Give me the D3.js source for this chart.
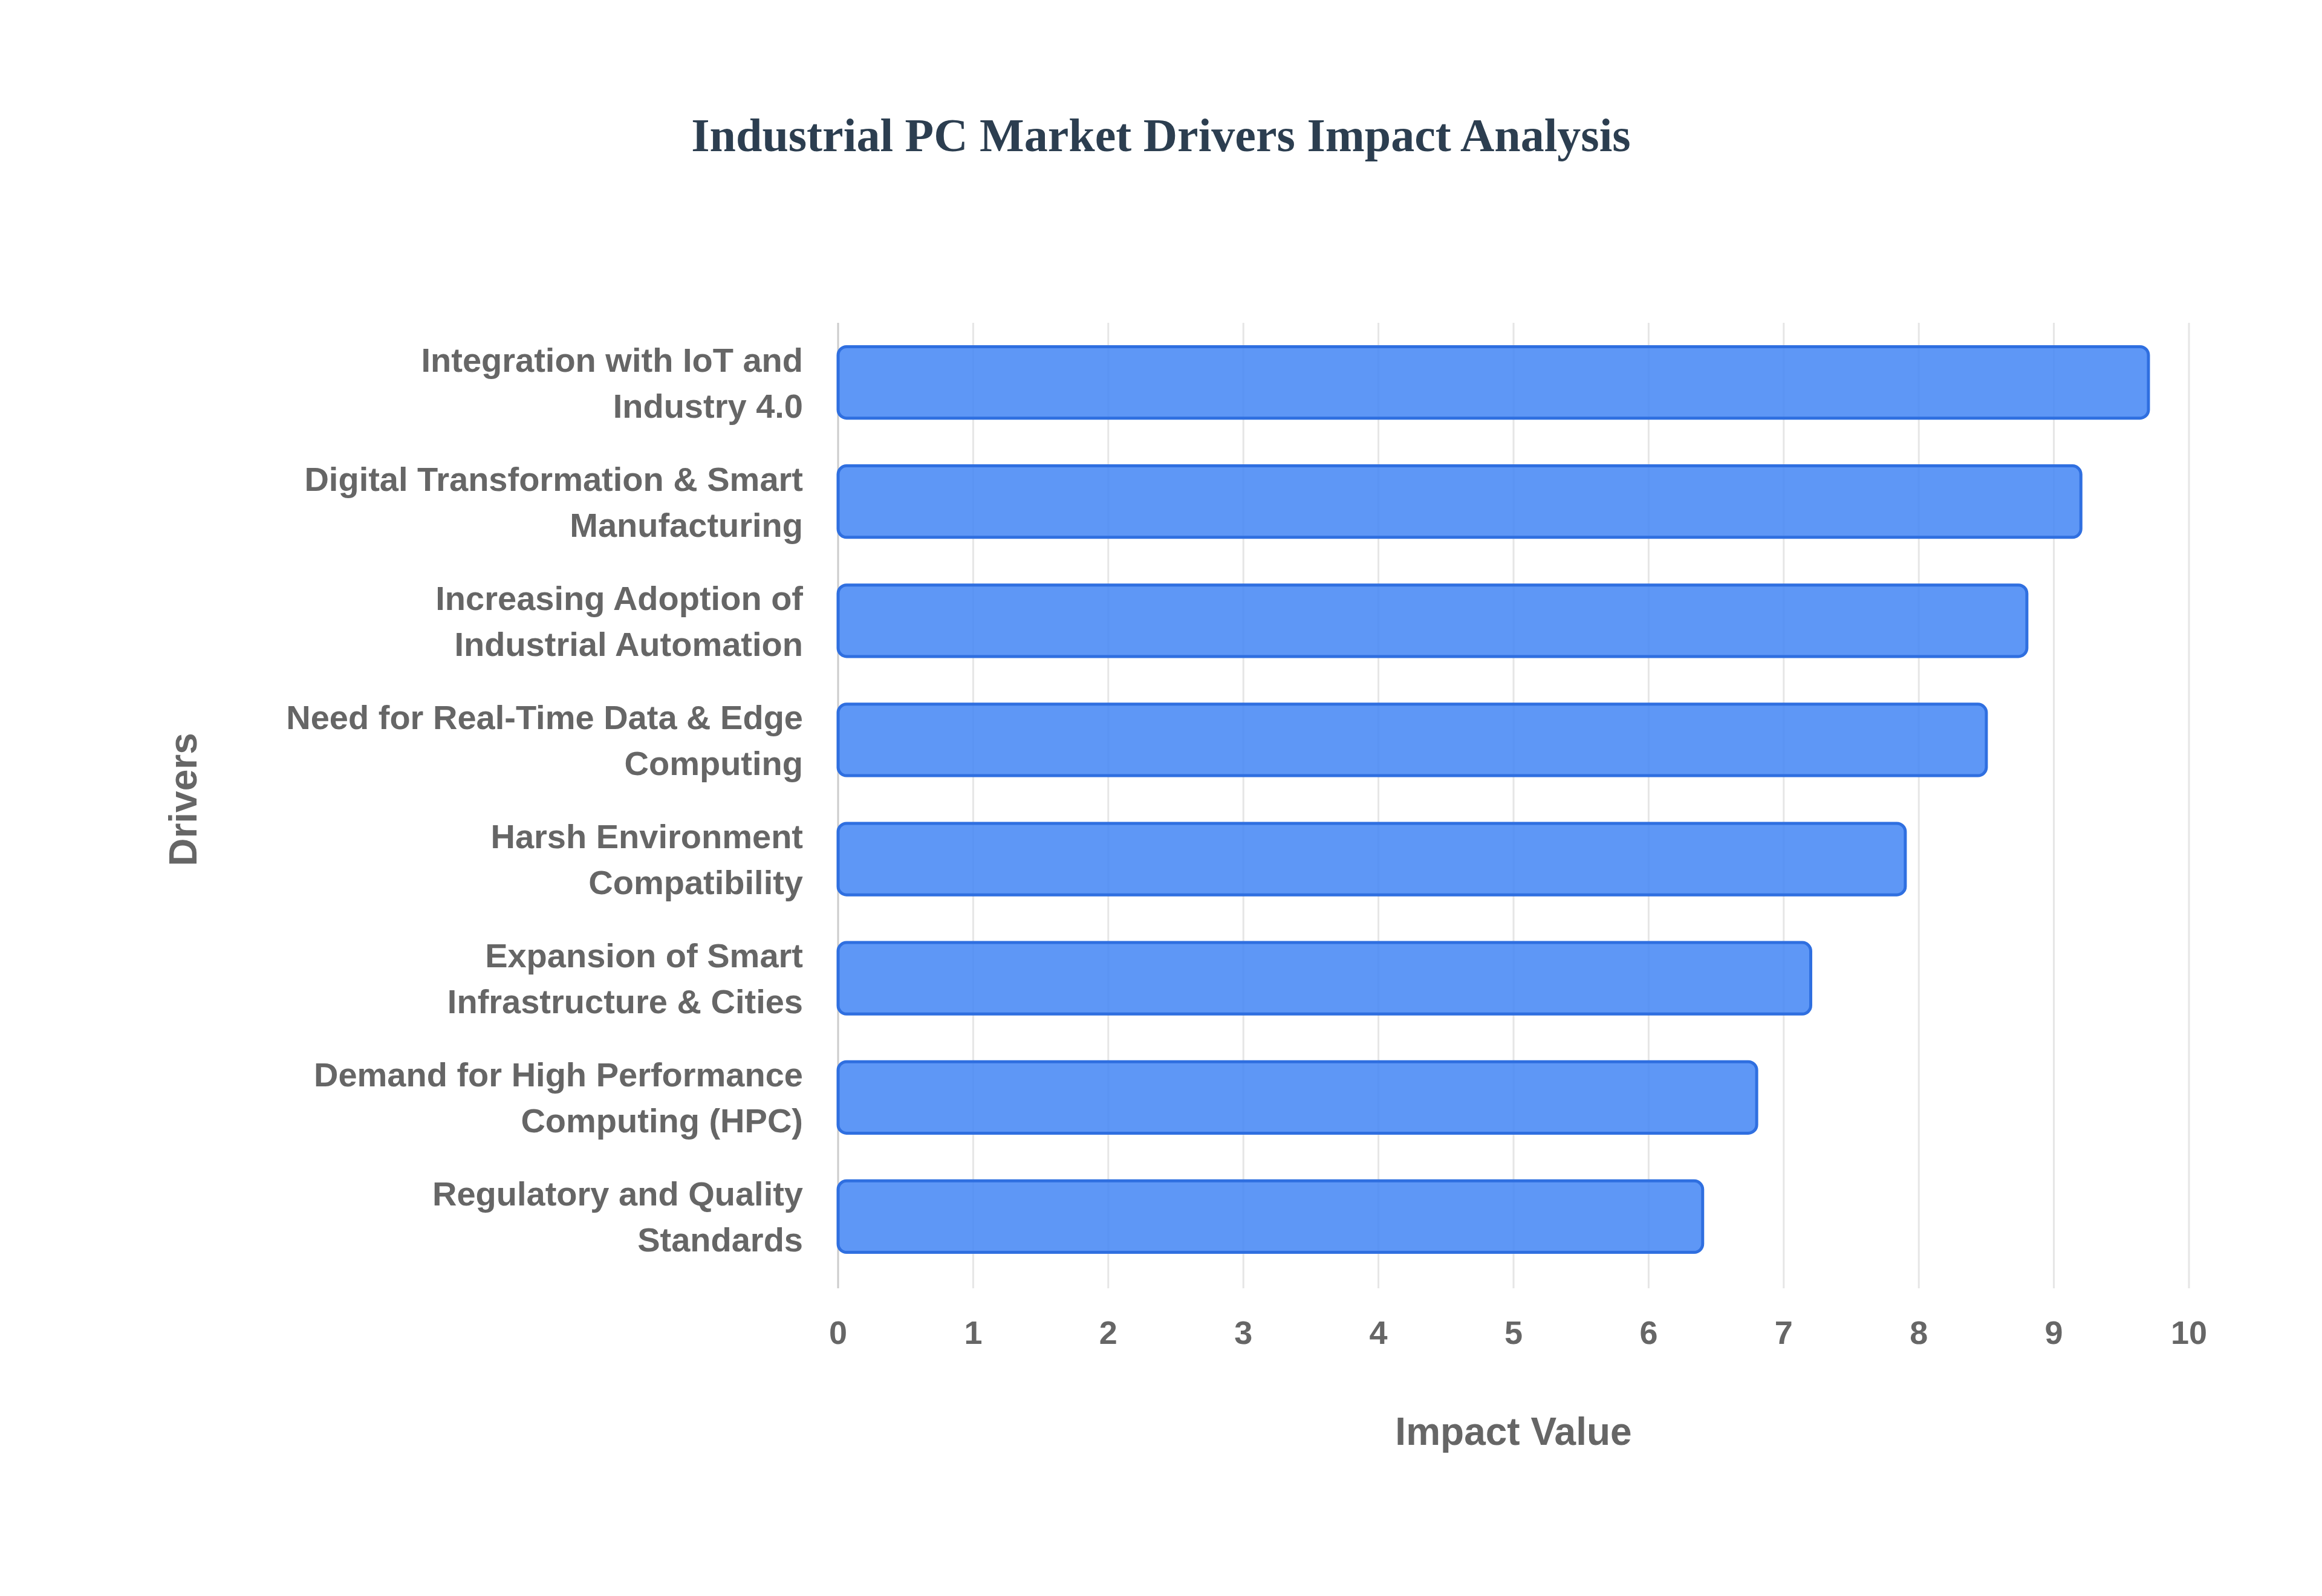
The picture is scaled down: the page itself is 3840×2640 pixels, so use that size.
<!DOCTYPE html>
<html><head><meta charset="utf-8">
<script src="https://d3js.org/d3.v7.min.js"></script>
<style>body{margin:0;background:#fff}</style>
</head><body><svg id="c" width="3840" height="2640"></svg>
<script>
const categories = [
 ["Integration with IoT and","Industry 4.0"],
 ["Digital Transformation & Smart","Manufacturing"],
 ["Increasing Adoption of","Industrial Automation"],
 ["Need for Real-Time Data & Edge","Computing"],
 ["Harsh Environment","Compatibility"],
 ["Expansion of Smart","Infrastructure & Cities"],
 ["Demand for High Performance","Computing (HPC)"],
 ["Regulatory and Quality","Standards"]
];
const values = [9.7, 9.2, 8.8, 8.5, 7.9, 7.2, 6.8, 6.4];
const xTicks = [0,1,2,3,4,5,6,7,8,9,10];

const svg = d3.select("#c");
const L=1386, R=3620, T=534, B=2111;
const x = d3.scaleLinear().domain([0,10]).range([L,R]);
const y = d3.scaleBand().domain(d3.range(categories.length)).range([T,B]).paddingInner(0.4).paddingOuter(0.2);

svg.append("text").attr("x",1920).attr("y",250).attr("text-anchor","middle")
 .attr("font-family","Liberation Serif, serif").attr("font-weight","bold").attr("font-size",78)
 .attr("fill","#2c3e50").text("Industrial PC Market Drivers Impact Analysis");

const g = svg.append("g");
g.selectAll("line.grid").data(xTicks).join("line")
 .attr("x1",d=>x(d)).attr("x2",d=>x(d)).attr("y1",T).attr("y2",B+20)
 .attr("stroke",d=>d===0?"#cccccc":"#e6e6e6").attr("stroke-width",3);

g.selectAll("rect").data(values).join("rect")
 .attr("x",x(0)).attr("y",(d,i)=>y(i)).attr("width",d=>x(d)-x(0)).attr("height",y.bandwidth())
 .attr("rx",14).attr("fill","#4285f4").attr("fill-opacity",0.85)
 .attr("stroke","#2f6fe0").attr("stroke-width",5);

const ff="Liberation Sans, Arial, sans-serif";
g.selectAll("text.tick").data(xTicks).join("text")
 .attr("x",d=>x(d)).attr("y",B+112).attr("text-anchor","middle")
 .attr("font-family",ff).attr("font-weight","bold").attr("font-size",54).attr("fill","#666")
 .text(d=>d);

categories.forEach((c,i)=>{
 const t=g.append("text").attr("text-anchor","end").attr("font-family",ff).attr("font-weight","bold")
  .attr("font-size",56).attr("fill","#666");
 const cy=y(i)+y.bandwidth()/2;
 t.append("tspan").attr("x",L-58).attr("y",cy-18).text(c[0]);
 t.append("tspan").attr("x",L-58).attr("y",cy+58).text(c[1]);
});

svg.append("text").attr("x",(L+R)/2).attr("y",2390).attr("text-anchor","middle")
 .attr("font-family",ff).attr("font-weight","bold").attr("font-size",64).attr("fill","#666").text("Impact Value");
svg.append("text").attr("transform",`translate(325,${(T+B)/2}) rotate(-90)`).attr("text-anchor","middle")
 .attr("font-family",ff).attr("font-weight","bold").attr("font-size",64).attr("fill","#666").text("Drivers");
</script></body></html>
